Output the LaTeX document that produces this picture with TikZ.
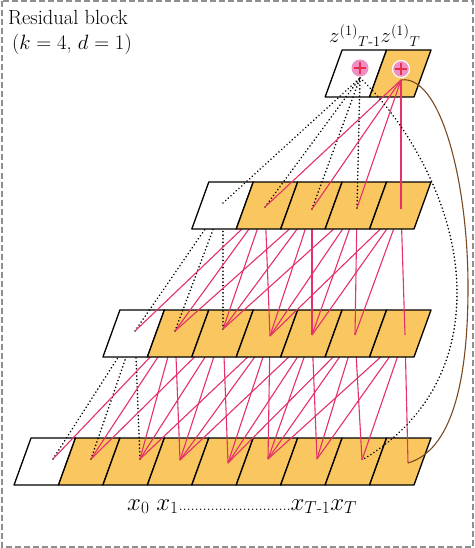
\documentclass[tikz,border=0pt]{standalone}
\usepackage{amsmath}
\definecolor{orangeF}{HTML}{F9C660}
\definecolor{redL}{HTML}{E5306A}
\definecolor{pinkC}{HTML}{EE90C4}
\definecolor{plusR}{HTML}{E8304A}
\definecolor{brownA}{HTML}{7A4A22}
\definecolor{borderG}{HTML}{8E8E8E}
\tikzset{
  cellbox/.style={draw=black, fill=orangeF, line width=1.3pt, line join=round},
  padbox/.style={draw=black, fill=white, line width=1.3pt, line join=round},
  redl/.style={draw=redL, line width=1.1pt},
  dotl/.style={draw=black, line width=1.8pt, line cap=round, dash pattern=on 0.01pt off 3.6pt},
  sumc/.style={circle, fill=pinkC, minimum size=17pt, inner sep=0pt},
  plusl/.style={draw=plusR, line width=1.1pt},
  lbl/.style={inner sep=0pt, anchor=base west}
}
\begin{document}
\begin{tikzpicture}[x=1pt,y=-1pt]
\useasboundingbox (0,0) rectangle (474,548);
\draw[borderG, line width=2pt, dash pattern=on 6pt off 3pt] (1.5,1.5) rectangle (472.5,546.5);

% points
\foreach \x/\y [count=\n from 0] in {53/459,91/459,140/459,180/460,228/463,268/459,317/459,362/460,408/463}
  \coordinate (b\n) at (\x,\y);
\foreach \x/\y [count=\n from 0] in {135/331,175/331,223/329,270/336,312/335,355/335,405/335}
  \coordinate (m\n) at (\x,\y);
\foreach \x/\y [count=\n from 0] in {223/203,265/207,312/209,357/208,401/209}
  \coordinate (u\n) at (\x,\y);
\coordinate (t0) at (360,78);
\coordinate (t1) at (401,80);

% bottom row
\path[padbox] ({414-9*44.44},485) -- ++(44.44,0) -- ++(17,-47) -- ++(-44.44,0) -- cycle;
\foreach \i in {1,...,8}
  \path[cellbox] ({414-(9-\i)*44.44},485) -- ++(44.44,0) -- ++(17,-47) -- ++(-44.44,0) -- cycle;
% bottom -> middle
\foreach \k in {0,1,2} \draw[dotl] (b\k) -- (m0);
\foreach \j in {1,...,6}{\foreach \d in {-1,...,2}{\pgfmathtruncatemacro\k{\j+\d}\draw[redl] (b\k) -- (m\j);}}

% middle row
\path[padbox] ({414-7*44.44},357) -- ++(44.44,0) -- ++(17,-47) -- ++(-44.44,0) -- cycle;
\foreach \i in {1,...,6}
  \path[cellbox] ({414-(7-\i)*44.44},357) -- ++(44.44,0) -- ++(17,-47) -- ++(-44.44,0) -- cycle;
% middle -> upper
\foreach \k in {0,1,2} \draw[dotl] (m\k) -- (u0);
\foreach \j in {1,...,4}{\foreach \d in {-1,...,2}{\pgfmathtruncatemacro\k{\j+\d}\draw[redl] (m\k) -- (u\j);}}

% upper row
\path[padbox] ({414-5*44.44},229) -- ++(44.44,0) -- ++(17,-47) -- ++(-44.44,0) -- cycle;
\foreach \i in {1,...,4}
  \path[cellbox] ({414-(5-\i)*44.44},229) -- ++(44.44,0) -- ++(17,-47) -- ++(-44.44,0) -- cycle;

% top row
\path[padbox] ({414-2*44.44},97) -- ++(44.44,0) -- ++(17,-47) -- ++(-44.44,0) -- cycle;
\path[cellbox] ({414-44.44},97) -- ++(44.44,0) -- ++(17,-47) -- ++(-44.44,0) -- cycle;

% upper -> top
\foreach \k in {0,...,3} \draw[dotl] (u\k) -- (t0);
\foreach \k in {1,...,4} \draw[redl] (u\k) -- (t1);

% residual connections
\draw[dotl] (t0) .. controls (400,115) and (457,200) .. (457,293) .. controls (457,380) and (410,432) .. (b7);
\draw[brownA, line width=1.1pt] (t1) .. controls (440,74) and (468,180) .. (468,287) .. controls (468,400) and (445,452) .. (b8);

% sum circles
\node[sumc] (c0) at (360,68) {};
\node[sumc, draw=white, line width=1.2pt] (c1) at (401,69) {};
\draw[plusl] (c0.center) +(-6,0) -- +(6,0) (c0.center) +(0,-6) -- +(0,6);
\draw[plusl] (c1.center) +(-6,0) -- +(6,0) (c1.center) +(0,-6) -- +(0,6);

% texts
\node[lbl, font=\fontsize{20.5}{23}\selectfont] (title) at (8,25) {Residual block};
\node[lbl, font=\fontsize{20.5}{23}\selectfont] (param) at (12,50) {($k=4$, $d=1$)};
\node[lbl, font=\fontsize{21}{23}\selectfont] (zlab) at (329,43) {$z^{(1)}{}_{T\text{-}1}z^{(1)}{}_{T}$};
\node[lbl, font=\fontsize{24}{26}\selectfont] (xlab) at (127,510) {$x_0\;x_1$\makebox[112pt]{\fontsize{17}{17}\selectfont\leaders\hbox to 4pt{\hss.\hss}\hfill}$x_{T\text{-}1}x_T$};
\end{tikzpicture}
\end{document}
